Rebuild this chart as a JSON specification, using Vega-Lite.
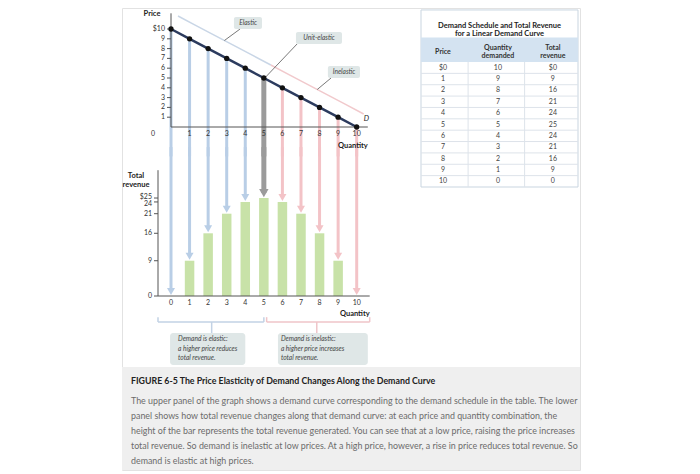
{
  "$schema": "https://vega.github.io/schema/vega-lite/v6.json",
  "width": 458,
  "height": 462,
  "autosize": "none",
  "padding": {"left": 122, "top": 8, "right": 120, "bottom": 4},
  "background": "white",
  "config": {
    "font": "Lato",
    "view": {"stroke": "#e2e2e2", "strokeWidth": 1},
    "axis": {"grid": false},
    "text": {"font": "Lato"}
  },
  "datasets": {
    "sched": [
      {"price": 0, "quantity": 10, "revenue": 0, "zone": "inelastic"},
      {"price": 1, "quantity": 9, "revenue": 9, "zone": "inelastic"},
      {"price": 2, "quantity": 8, "revenue": 16, "zone": "inelastic"},
      {"price": 3, "quantity": 7, "revenue": 21, "zone": "inelastic"},
      {"price": 4, "quantity": 6, "revenue": 24, "zone": "inelastic"},
      {"price": 5, "quantity": 5, "revenue": 25, "zone": "unit"},
      {"price": 6, "quantity": 4, "revenue": 24, "zone": "elastic"},
      {"price": 7, "quantity": 3, "revenue": 21, "zone": "elastic"},
      {"price": 8, "quantity": 2, "revenue": 16, "zone": "elastic"},
      {"price": 9, "quantity": 1, "revenue": 9, "zone": "elastic"},
      {"price": 10, "quantity": 0, "revenue": 0, "zone": "elastic"}
    ],
    "caption": [
      {"line": 1, "text": "The upper panel of the graph shows a demand curve corresponding to the demand schedule in the table. The lower"},
      {"line": 2, "text": "panel shows how total revenue changes along that demand curve: at each price and quantity combination, the"},
      {"line": 3, "text": "height of the bar represents the total revenue generated. You can see that at a low price, raising the price increases"},
      {"line": 4, "text": "total revenue. So demand is inelastic at low prices. At a high price, however, a rise in price reduces total revenue. So"},
      {"line": 5, "text": "demand is elastic at high prices."}
    ]
  },
  "resolve": {"scale": {"x": "independent", "y": "independent"}},
  "layer": [
    {
      "layer": [
        {"data": {"values": [{}]}, "mark": {"type": "rect", "color": "#efefef"},
         "encoding": {
           "x": {"datum": 0, "type": "quantitative", "scale": {"domain": [0, 1], "range": [0, 458], "nice": false, "zero": false}, "axis": null},
           "x2": {"datum": 1},
           "y": {"datum": -1.21, "type": "quantitative", "scale": {"domain": [1, 5], "range": [392.5, 453], "nice": false, "zero": false}, "axis": null},
           "y2": {"datum": 5.6}}},
        {"data": {"values": [{}]}, "mark": {"type": "text", "align": "left", "baseline": "middle", "fontSize": 8.8, "fontWeight": "bold", "color": "#222222", "xOffset": 9},
         "encoding": {"x": {"datum": 0, "type": "quantitative", "axis": null}, "y": {"datum": -0.32, "type": "quantitative", "axis": null}, "text": {"value": "FIGURE 6-5 The Price Elasticity of Demand Changes Along the Demand Curve"}}},
        {"data": {"name": "caption"}, "mark": {"type": "text", "align": "left", "baseline": "middle", "fontSize": 8.9, "color": "#6b6b6b", "xOffset": 9},
         "encoding": {"x": {"datum": 0, "type": "quantitative", "axis": null}, "y": {"field": "line", "type": "quantitative", "axis": null}, "text": {"field": "text", "type": "nominal"}}}
      ]
    },
    {
      "layer": [
        {"data": {"values": [{}]}, "mark": {"type": "rect", "fill": "white", "stroke": "#c9d5e0", "strokeWidth": 1},
         "encoding": {
           "x": {"datum": 0, "type": "quantitative", "scale": {"domain": [0, 1], "range": [299, 456], "nice": false, "zero": false}, "axis": null},
           "x2": {"datum": 1},
           "y": {"datum": -5.08, "type": "quantitative", "scale": {"domain": [-0.5, 10.5], "range": [54, 179], "nice": false, "zero": false}, "axis": null},
           "y2": {"datum": 10.5}}},
        {"data": {"values": [{}]}, "mark": {"type": "rect", "color": "#d4e3f1"},
         "encoding": {"x": {"datum": 0, "type": "quantitative", "axis": null}, "x2": {"datum": 1}, "y": {"datum": -2.66, "type": "quantitative", "axis": null}, "y2": {"datum": -0.5}}},
        {"data": {"name": "sched"}, "transform": [{"filter": "datum.price < 10"}], "mark": {"type": "rule", "color": "#dde3ea", "strokeWidth": 1, "yOffset": 5.68},
         "encoding": {"x": {"datum": 0, "type": "quantitative", "axis": null}, "x2": {"datum": 1}, "y": {"field": "price", "type": "quantitative", "axis": null}}},
        {"data": {"values": [{}]}, "mark": {"type": "rule", "color": "#dde3ea"},
         "encoding": {"x": {"datum": 0.3, "type": "quantitative", "axis": null}, "y": {"datum": -0.5, "type": "quantitative", "axis": null}, "y2": {"datum": 10.5}}},
        {"data": {"values": [{}]}, "mark": {"type": "rule", "color": "#dde3ea"},
         "encoding": {"x": {"datum": 0.66, "type": "quantitative", "axis": null}, "y": {"datum": -0.5, "type": "quantitative", "axis": null}, "y2": {"datum": 10.5}}},
        {"data": {"values": [{}]}, "mark": {"type": "text", "align": "center", "baseline": "middle", "fontSize": 7.5, "fontWeight": "bold", "color": "#222222", "lineHeight": 8},
         "encoding": {"x": {"datum": 0.5, "type": "quantitative", "axis": null}, "y": {"datum": -3.71, "type": "quantitative", "axis": null}, "text": {"value": ["Demand Schedule and Total Revenue", "for a Linear Demand Curve"]}}},
        {"data": {"values": [{}]}, "mark": {"type": "text", "align": "center", "baseline": "middle", "fontSize": 7, "fontWeight": "bold", "color": "#333333"},
         "encoding": {"x": {"datum": 0.14, "type": "quantitative", "axis": null}, "y": {"datum": -1.38, "type": "quantitative", "axis": null}, "text": {"value": "Price"}}},
        {"data": {"values": [{}]}, "mark": {"type": "text", "align": "center", "baseline": "middle", "fontSize": 7, "fontWeight": "bold", "color": "#333333", "lineHeight": 8},
         "encoding": {"x": {"datum": 0.49, "type": "quantitative", "axis": null}, "y": {"datum": -1.73, "type": "quantitative", "axis": null}, "text": {"value": ["Quantity", "demanded"]}}},
        {"data": {"values": [{}]}, "mark": {"type": "text", "align": "center", "baseline": "middle", "fontSize": 7, "fontWeight": "bold", "color": "#333333", "lineHeight": 8},
         "encoding": {"x": {"datum": 0.84, "type": "quantitative", "axis": null}, "y": {"datum": -1.73, "type": "quantitative", "axis": null}, "text": {"value": ["Total", "revenue"]}}},
        {"data": {"name": "sched"}, "transform": [{"filter": "datum.price > 0"}], "mark": {"type": "text", "align": "center", "baseline": "middle", "fontSize": 7, "color": "#444444"},
         "encoding": {"x": {"datum": 0.14, "type": "quantitative", "axis": null}, "y": {"field": "price", "type": "quantitative", "axis": null}, "text": {"field": "price", "type": "quantitative"}}},
        {"data": {"name": "sched"}, "mark": {"type": "text", "align": "center", "baseline": "middle", "fontSize": 7, "color": "#444444"},
         "encoding": {"x": {"datum": 0.49, "type": "quantitative", "axis": null}, "y": {"field": "price", "type": "quantitative", "axis": null}, "text": {"field": "quantity", "type": "quantitative"}}},
        {"data": {"name": "sched"}, "transform": [{"filter": "datum.price > 0"}], "mark": {"type": "text", "align": "center", "baseline": "middle", "fontSize": 7, "color": "#444444"},
         "encoding": {"x": {"datum": 0.84, "type": "quantitative", "axis": null}, "y": {"field": "price", "type": "quantitative", "axis": null}, "text": {"field": "revenue", "type": "quantitative"}}},
        {"data": {"values": [{}]}, "mark": {"type": "text", "align": "center", "baseline": "middle", "fontSize": 7, "color": "#444444"},
         "encoding": {"x": {"datum": 0.14, "type": "quantitative", "axis": null}, "y": {"datum": 0, "type": "quantitative", "axis": null}, "text": {"value": "$0"}}},
        {"data": {"values": [{}]}, "mark": {"type": "text", "align": "center", "baseline": "middle", "fontSize": 7, "color": "#444444"},
         "encoding": {"x": {"datum": 0.84, "type": "quantitative", "axis": null}, "y": {"datum": 0, "type": "quantitative", "axis": null}, "text": {"value": "$0"}}}
      ]
    },
    {
      "layer": [
        {"data": {"name": "sched"}, "mark": {"type": "bar", "color": "#c8e2a8", "width": 9.5},
         "encoding": {
           "x": {"field": "quantity", "type": "quantitative", "scale": {"domain": [-0.7, 10.7], "range": [36, 247.7], "nice": false, "zero": false, "padding": 0}, "axis": null},
           "y": {"field": "revenue", "type": "quantitative", "scale": {"domain": [0, 32.1], "range": [288, 162.2], "nice": false, "zero": false}, "axis": null}}},
        {"data": {"name": "sched"}, "transform": [{"filter": "datum.zone != 'unit'"}], "mark": {"type": "rule", "strokeWidth": 3, "yOffset": -5},
         "encoding": {
           "x": {"field": "quantity", "type": "quantitative", "axis": null},
           "y": {"field": "revenue", "type": "quantitative", "axis": null},
           "y2": {"datum": 38},
           "color": {"field": "zone", "type": "nominal", "scale": {"domain": ["elastic", "unit", "inelastic"], "range": ["#b9cee6", "#9b9b9b", "#f3c3c7"]}, "legend": null}}},
        {"data": {"name": "sched"}, "transform": [{"filter": "datum.zone == 'unit'"}], "mark": {"type": "rule", "strokeWidth": 5, "color": "#9b9b9b", "yOffset": -5},
         "encoding": {
           "x": {"field": "quantity", "type": "quantitative", "axis": null},
           "y": {"field": "revenue", "type": "quantitative", "axis": null},
           "y2": {"datum": 38}}},
        {"data": {"name": "sched"}, "transform": [{"filter": "datum.zone != 'unit'"}], "mark": {"type": "point", "shape": "triangle-down", "filled": true, "opacity": 1, "size": 64, "yOffset": -4.5},
         "encoding": {
           "x": {"field": "quantity", "type": "quantitative", "axis": null},
           "y": {"field": "revenue", "type": "quantitative", "axis": null},
           "color": {"field": "zone", "type": "nominal", "legend": null}}},
        {"data": {"name": "sched"}, "transform": [{"filter": "datum.zone == 'unit'"}], "mark": {"type": "point", "shape": "triangle-down", "filled": true, "opacity": 1, "size": 90, "color": "#9b9b9b", "yOffset": -5},
         "encoding": {
           "x": {"field": "quantity", "type": "quantitative", "axis": null},
           "y": {"field": "revenue", "type": "quantitative", "axis": null}}},
        {"data": {"values": [{}]}, "mark": {"type": "rule", "color": "#555555", "strokeWidth": 1},
         "encoding": {"x": {"datum": -0.7, "type": "quantitative", "axis": null}, "x2": {"datum": 10.7}, "y": {"datum": 0, "type": "quantitative", "axis": null}}},
        {"data": {"values": [{}]}, "mark": {"type": "rule", "color": "#555555", "strokeWidth": 1},
         "encoding": {"x": {"datum": -0.7, "type": "quantitative", "axis": null}, "y": {"datum": 0, "type": "quantitative", "axis": null}, "y2": {"datum": 32.1}}},
        {"data": {"name": "sched"}, "transform": [{"filter": "datum.price <= 5"}], "mark": {"type": "point", "shape": "stroke", "filled": false, "color": "#555555", "strokeWidth": 1, "size": 16, "opacity": 1, "xOffset": -2},
         "encoding": {"x": {"datum": -0.7, "type": "quantitative", "axis": null}, "y": {"field": "revenue", "type": "quantitative", "axis": null}}},
        {"data": {"name": "sched"}, "transform": [{"filter": "datum.price <= 3"}], "mark": {"type": "text", "align": "right", "baseline": "middle", "fontSize": 7, "color": "#333333", "dx": -6},
         "encoding": {"x": {"datum": -0.7, "type": "quantitative", "axis": null}, "y": {"field": "revenue", "type": "quantitative", "axis": null}, "text": {"field": "revenue", "type": "quantitative"}}},
        {"data": {"values": [{}]}, "mark": {"type": "text", "align": "right", "baseline": "middle", "fontSize": 7, "color": "#333333", "dx": -6, "dy": -1.5},
         "encoding": {"x": {"datum": -0.7, "type": "quantitative", "axis": null}, "y": {"datum": 25, "type": "quantitative", "axis": null}, "text": {"value": "$25"}}},
        {"data": {"values": [{}]}, "mark": {"type": "text", "align": "right", "baseline": "middle", "fontSize": 7, "color": "#333333", "dx": -6, "dy": 2.5},
         "encoding": {"x": {"datum": -0.7, "type": "quantitative", "axis": null}, "y": {"datum": 24, "type": "quantitative", "axis": null}, "text": {"value": "24"}}},
        {"data": {"name": "sched"}, "mark": {"type": "text", "align": "center", "baseline": "middle", "fontSize": 7, "color": "#333333", "dy": 7},
         "encoding": {"x": {"field": "quantity", "type": "quantitative", "axis": null}, "y": {"datum": 0, "type": "quantitative", "axis": null}, "text": {"field": "quantity", "type": "quantitative"}}},
        {"data": {"values": [{}]}, "mark": {"type": "text", "align": "right", "baseline": "middle", "fontSize": 7.5, "fontWeight": "bold", "color": "#222222", "dy": 18},
         "encoding": {"x": {"datum": 10.7, "type": "quantitative", "axis": null}, "y": {"datum": 0, "type": "quantitative", "axis": null}, "text": {"value": "Quantity"}}},
        {"data": {"values": [{}]}, "mark": {"type": "text", "align": "center", "baseline": "middle", "fontSize": 7.5, "fontWeight": "bold", "color": "#222222", "dx": -22, "lineHeight": 9},
         "encoding": {"x": {"datum": -0.7, "type": "quantitative", "axis": null}, "y": {"datum": 30.6, "type": "quantitative", "axis": null}, "text": {"value": ["Total", "revenue"]}}},
        {"data": {"values": [{}]}, "mark": {"type": "rule", "color": "#c2d2e5", "strokeWidth": 1.5},
         "encoding": {"x": {"datum": -0.7, "type": "quantitative", "axis": null}, "x2": {"datum": 5.0}, "y": {"datum": -6.63, "type": "quantitative", "axis": null}}},
        {"data": {"values": [{}]}, "mark": {"type": "rule", "color": "#c2d2e5", "strokeWidth": 1.5},
         "encoding": {"x": {"datum": -0.7, "type": "quantitative", "axis": null}, "y": {"datum": -6.63, "type": "quantitative", "axis": null}, "y2": {"datum": -5.4}}},
        {"data": {"values": [{}]}, "mark": {"type": "rule", "color": "#c2d2e5", "strokeWidth": 1.5},
         "encoding": {"x": {"datum": 5.0, "type": "quantitative", "axis": null}, "y": {"datum": -6.63, "type": "quantitative", "axis": null}, "y2": {"datum": -5.4}}},
        {"data": {"values": [{}]}, "mark": {"type": "rule", "color": "#c2d2e5", "strokeWidth": 1.5},
         "encoding": {"x": {"datum": 2.19, "type": "quantitative", "axis": null}, "y": {"datum": -6.63, "type": "quantitative", "axis": null}, "y2": {"datum": -9.44}}},
        {"data": {"values": [{}]}, "mark": {"type": "rule", "color": "#efc5c9", "strokeWidth": 1.5},
         "encoding": {"x": {"datum": 5.15, "type": "quantitative", "axis": null}, "x2": {"datum": 10.7}, "y": {"datum": -6.63, "type": "quantitative", "axis": null}}},
        {"data": {"values": [{}]}, "mark": {"type": "rule", "color": "#efc5c9", "strokeWidth": 1.5},
         "encoding": {"x": {"datum": 5.15, "type": "quantitative", "axis": null}, "y": {"datum": -6.63, "type": "quantitative", "axis": null}, "y2": {"datum": -5.4}}},
        {"data": {"values": [{}]}, "mark": {"type": "rule", "color": "#efc5c9", "strokeWidth": 1.5},
         "encoding": {"x": {"datum": 10.7, "type": "quantitative", "axis": null}, "y": {"datum": -6.63, "type": "quantitative", "axis": null}, "y2": {"datum": -5.4}}},
        {"data": {"values": [{}]}, "mark": {"type": "rule", "color": "#efc5c9", "strokeWidth": 1.5},
         "encoding": {"x": {"datum": 7.85, "type": "quantitative", "axis": null}, "y": {"datum": -6.63, "type": "quantitative", "axis": null}, "y2": {"datum": -9.44}}},
        {"data": {"values": [{}]}, "mark": {"type": "rect", "color": "#dfe7e7", "cornerRadius": 3},
         "encoding": {"x": {"datum": -0.05, "type": "quantitative", "axis": null}, "x2": {"datum": 4.0}, "y": {"datum": -9.44, "type": "quantitative", "axis": null}, "y2": {"datum": -17.6}}},
        {"data": {"values": [{}]}, "mark": {"type": "rect", "color": "#dfe7e7", "cornerRadius": 3},
         "encoding": {"x": {"datum": 5.76, "type": "quantitative", "axis": null}, "x2": {"datum": 10.6}, "y": {"datum": -9.44, "type": "quantitative", "axis": null}, "y2": {"datum": -17.6}}},
        {"data": {"values": [{}]}, "mark": {"type": "text", "align": "left", "baseline": "top", "fontSize": 6.6, "fontStyle": "italic", "color": "#444444", "lineHeight": 9.5},
         "encoding": {"x": {"datum": 0.38, "type": "quantitative", "axis": null}, "y": {"datum": -10.33, "type": "quantitative", "axis": null}, "text": {"value": ["Demand is elastic:", "a higher price reduces", "total revenue."]}}},
        {"data": {"values": [{}]}, "mark": {"type": "text", "align": "left", "baseline": "top", "fontSize": 6.6, "fontStyle": "italic", "color": "#444444", "lineHeight": 9.5},
         "encoding": {"x": {"datum": 5.92, "type": "quantitative", "axis": null}, "y": {"datum": -10.33, "type": "quantitative", "axis": null}, "text": {"value": ["Demand is inelastic:", "a higher price increases", "total revenue."]}}}
      ]
    },
    {
      "layer": [
        {"data": {"name": "sched"}, "transform": [{"filter": "datum.zone != 'unit'"}], "mark": {"type": "rule", "strokeWidth": 3},
         "encoding": {
           "x": {"field": "quantity", "type": "quantitative", "scale": {"domain": [0, 10.6], "range": [49, 245.8], "nice": false, "zero": false}, "axis": null},
           "y": {"field": "price", "type": "quantitative", "scale": {"domain": [0, 10.8], "range": [119, 13.16], "nice": false, "zero": false}, "axis": null},
           "y2": {"datum": -3},
           "color": {"field": "zone", "type": "nominal", "scale": {"domain": ["elastic", "unit", "inelastic"], "range": ["#b9cee6", "#9b9b9b", "#f3c3c7"]}, "legend": null}}},
        {"data": {"name": "sched"}, "transform": [{"filter": "datum.zone == 'unit'"}], "mark": {"type": "rule", "strokeWidth": 5, "color": "#9b9b9b"},
         "encoding": {"x": {"field": "quantity", "type": "quantitative", "axis": null}, "y": {"field": "price", "type": "quantitative", "axis": null}, "y2": {"datum": -3}}},
        {"data": {"values": [{}]}, "mark": {"type": "rule", "color": "#555555", "strokeWidth": 1},
         "encoding": {"x": {"datum": 0, "type": "quantitative", "axis": null}, "x2": {"datum": 10.6}, "y": {"datum": 0, "type": "quantitative", "axis": null}}},
        {"data": {"values": [{}]}, "mark": {"type": "rule", "color": "#555555", "strokeWidth": 1},
         "encoding": {"x": {"datum": 0, "type": "quantitative", "axis": null}, "y": {"datum": 0, "type": "quantitative", "axis": null}, "y2": {"datum": 11.6}}},
        {"data": {"name": "sched"}, "transform": [{"filter": "datum.price >= 1"}], "mark": {"type": "point", "shape": "stroke", "filled": false, "color": "#555555", "strokeWidth": 1, "size": 16, "opacity": 1, "xOffset": -2},
         "encoding": {"x": {"datum": 0, "type": "quantitative", "axis": null}, "y": {"field": "price", "type": "quantitative", "axis": null}}},
        {"data": {"name": "sched"}, "transform": [{"filter": "datum.price >= 1 && datum.price <= 9"}], "mark": {"type": "text", "align": "right", "baseline": "middle", "fontSize": 7, "color": "#333333", "dx": -6},
         "encoding": {"x": {"datum": 0, "type": "quantitative", "axis": null}, "y": {"field": "price", "type": "quantitative", "axis": null}, "text": {"field": "price", "type": "quantitative"}}},
        {"data": {"values": [{}]}, "mark": {"type": "text", "align": "right", "baseline": "middle", "fontSize": 7, "color": "#333333", "dx": -6},
         "encoding": {"x": {"datum": 0, "type": "quantitative", "axis": null}, "y": {"datum": 10, "type": "quantitative", "axis": null}, "text": {"value": "$10"}}},
        {"data": {"name": "sched"}, "transform": [{"filter": "datum.quantity >= 1"}], "mark": {"type": "text", "align": "center", "baseline": "middle", "fontSize": 7, "color": "#333333", "dy": 7},
         "encoding": {"x": {"field": "quantity", "type": "quantitative", "axis": null}, "y": {"datum": 0, "type": "quantitative", "axis": null}, "text": {"field": "quantity", "type": "quantitative"}}},
        {"data": {"values": [{}]}, "mark": {"type": "text", "align": "right", "baseline": "middle", "fontSize": 7.5, "fontWeight": "bold", "color": "#222222", "dy": 19},
         "encoding": {"x": {"datum": 10.6, "type": "quantitative", "axis": null}, "y": {"datum": 0, "type": "quantitative", "axis": null}, "text": {"value": "Quantity"}}},
        {"data": {"values": [{}]}, "mark": {"type": "text", "align": "center", "baseline": "middle", "fontSize": 7.5, "fontWeight": "bold", "color": "#222222", "dx": -19},
         "encoding": {"x": {"datum": 0, "type": "quantitative", "axis": null}, "y": {"datum": 11.53, "type": "quantitative", "axis": null}, "text": {"value": "Price"}}},
        {"data": {"name": "sched"}, "transform": [{"filter": "datum.quantity <= 5"}], "mark": {"type": "line", "color": "#c9d6e6", "strokeWidth": 1.5, "xOffset": 7, "yOffset": -13},
         "encoding": {"x": {"field": "quantity", "type": "quantitative", "axis": null}, "y": {"field": "price", "type": "quantitative", "axis": null}}},
        {"data": {"name": "sched"}, "transform": [{"filter": "datum.quantity >= 5"}], "mark": {"type": "line", "color": "#f1c9cc", "strokeWidth": 1.5, "xOffset": 7, "yOffset": -13},
         "encoding": {"x": {"field": "quantity", "type": "quantitative", "axis": null}, "y": {"field": "price", "type": "quantitative", "axis": null}}},
        {"data": {"values": [{}]}, "mark": {"type": "rule", "color": "#555555", "strokeWidth": 0.8, "xOffset": 7, "yOffset": -13},
         "encoding": {"x": {"datum": 2.5, "type": "quantitative", "axis": null}, "y": {"datum": 7.5, "type": "quantitative", "axis": null}, "x2": {"datum": 3.72}, "y2": {"datum": 10.0}}},
        {"data": {"values": [{}]}, "mark": {"type": "rule", "color": "#555555", "strokeWidth": 0.8},
         "encoding": {"x": {"datum": 5.1, "type": "quantitative", "axis": null}, "y": {"datum": 5.1, "type": "quantitative", "axis": null}, "x2": {"datum": 6.79}, "y2": {"datum": 8.47}}},
        {"data": {"values": [{}]}, "mark": {"type": "rule", "color": "#555555", "strokeWidth": 0.8, "xOffset": 7, "yOffset": -13},
         "encoding": {"x": {"datum": 7.5, "type": "quantitative", "axis": null}, "y": {"datum": 2.5, "type": "quantitative", "axis": null}, "x2": {"datum": 8.62}, "y2": {"datum": 5.0}}},
        {"data": {"values": [{}]}, "mark": {"type": "rect", "color": "#dfe7e7", "cornerRadius": 2},
         "encoding": {"x": {"datum": 3.39, "type": "quantitative", "axis": null}, "x2": {"datum": 4.9}, "y": {"datum": 10.0, "type": "quantitative", "axis": null}, "y2": {"datum": 11.22}}},
        {"data": {"values": [{}]}, "mark": {"type": "rect", "color": "#dfe7e7", "cornerRadius": 2},
         "encoding": {"x": {"datum": 6.73, "type": "quantitative", "axis": null}, "x2": {"datum": 9.21}, "y": {"datum": 8.47, "type": "quantitative", "axis": null}, "y2": {"datum": 9.69}}},
        {"data": {"values": [{}]}, "mark": {"type": "rect", "color": "#dfe7e7", "cornerRadius": 2},
         "encoding": {"x": {"datum": 8.45, "type": "quantitative", "axis": null}, "x2": {"datum": 10.18}, "y": {"datum": 5.0, "type": "quantitative", "axis": null}, "y2": {"datum": 6.22}}},
        {"data": {"values": [{}]}, "mark": {"type": "text", "align": "center", "baseline": "middle", "fontSize": 6.6, "fontStyle": "italic", "color": "#444444"},
         "encoding": {"x": {"datum": 4.15, "type": "quantitative", "axis": null}, "y": {"datum": 10.61, "type": "quantitative", "axis": null}, "text": {"value": "Elastic"}}},
        {"data": {"values": [{}]}, "mark": {"type": "text", "align": "center", "baseline": "middle", "fontSize": 6.6, "fontStyle": "italic", "color": "#444444"},
         "encoding": {"x": {"datum": 7.97, "type": "quantitative", "axis": null}, "y": {"datum": 9.08, "type": "quantitative", "axis": null}, "text": {"value": "Unit-elastic"}}},
        {"data": {"values": [{}]}, "mark": {"type": "text", "align": "center", "baseline": "middle", "fontSize": 6.6, "fontStyle": "italic", "color": "#444444"},
         "encoding": {"x": {"datum": 9.32, "type": "quantitative", "axis": null}, "y": {"datum": 5.61, "type": "quantitative", "axis": null}, "text": {"value": "Inelastic"}}},
        {"data": {"name": "sched"}, "mark": {"type": "line", "color": "#2c3b5e", "strokeWidth": 2.5},
         "encoding": {"x": {"field": "quantity", "type": "quantitative", "axis": null}, "y": {"field": "price", "type": "quantitative", "axis": null}}},
        {"data": {"name": "sched"}, "mark": {"type": "circle", "color": "#111111", "size": 28, "opacity": 1},
         "encoding": {"x": {"field": "quantity", "type": "quantitative", "axis": null}, "y": {"field": "price", "type": "quantitative", "axis": null}}},
        {"data": {"values": [{}]}, "mark": {"type": "text", "align": "left", "baseline": "middle", "fontSize": 7.5, "fontStyle": "italic", "color": "#222222", "dx": 7, "dy": -8},
         "encoding": {"x": {"datum": 10, "type": "quantitative", "axis": null}, "y": {"datum": 0, "type": "quantitative", "axis": null}, "text": {"value": "D"}}},
        {"data": {"values": [{}]}, "mark": {"type": "text", "align": "center", "baseline": "middle", "fontSize": 7, "color": "#333333", "dx": -18, "dy": 7},
         "encoding": {"x": {"datum": 0, "type": "quantitative", "axis": null}, "y": {"datum": 0, "type": "quantitative", "axis": null}, "text": {"value": "0"}}}
      ]
    }
  ]
}
